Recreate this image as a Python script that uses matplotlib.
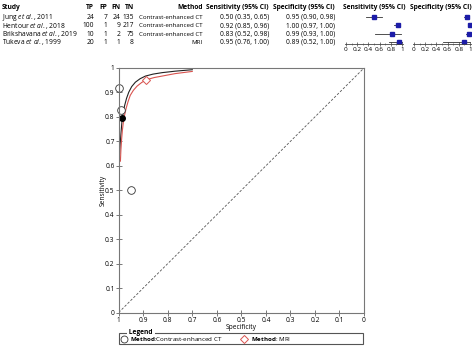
import matplotlib
matplotlib.use("Agg")
import matplotlib.pyplot as plt
from matplotlib.patches import Rectangle

plt.rcParams['font.family'] = ['Open Sans', 'DejaVu Sans']
plt.rcParams['mathtext.fontset'] = 'custom'
plt.rcParams['mathtext.rm'] = 'Open Sans'
plt.rcParams['mathtext.it'] = 'Open Sans:italic'
plt.rcParams['mathtext.bf'] = 'Open Sans:bold'

# study table
studies = ["Jung", "Hentour", "Brikshavana", "Tukeva"]
years = [2011, 2018, 2019, 1999]
tp = [24, 100, 10, 20]
fp = [7, 1, 1, 1]
fn = [24, 9, 2, 1]
tn = [135, 217, 75, 8]
methods = ["Contrast-enhanced CT", "Contrast-enhanced CT", "Contrast-enhanced CT", "MRI"]
sens = [0.50, 0.92, 0.83, 0.95]
sens_lo = [0.35, 0.85, 0.52, 0.76]
sens_hi = [0.65, 0.96, 0.98, 1.00]
spec = [0.95, 1.00, 0.99, 0.89]
spec_lo = [0.90, 0.97, 0.93, 0.52]
spec_hi = [0.98, 1.00, 1.00, 1.00]

# SROC curves
ct_curve_spec = [0.996, 0.994, 0.991, 0.987, 0.982, 0.976, 0.968, 0.959, 0.947, 0.932, 0.913, 0.891, 0.860, 0.823, 0.77, 0.70]
ct_curve_sens = [0.65, 0.69, 0.73, 0.778, 0.815, 0.846, 0.876, 0.901, 0.924, 0.942, 0.956, 0.967, 0.975, 0.981, 0.987, 0.993]
mri_curve_spec = [0.993, 0.991, 0.988, 0.985, 0.981, 0.976, 0.970, 0.962, 0.953, 0.940, 0.925, 0.906, 0.884, 0.855, 0.823, 0.77, 0.70]
mri_curve_sens = [0.619, 0.665, 0.71, 0.745, 0.778, 0.807, 0.834, 0.862, 0.888, 0.909, 0.926, 0.941, 0.953, 0.961, 0.967, 0.977, 0.986]
ct_summary_spec = 0.987
ct_summary_sens = 0.795

W, H = 474, 353
def fx(x):
    return x / W
def fy(y):
    return 1 - y / H

fig = plt.figure(figsize=(4.74, 3.53), dpi=100)
fs = 4.8   # table body
fh = 4.8   # table headers
fa = 4.8   # axis text

# ---- table ----
row_y = [17.3, 25.7, 34.0, 42.3]
head_y = 7.5
fig.text(fx(2), fy(head_y), "Study", fontsize=fh, weight='bold', va='center')
for lab, xr in [("TP", 94), ("FP", 107), ("FN", 120), ("TN", 134), ("Method", 203)]:
    fig.text(fx(xr), fy(head_y), lab, fontsize=fh, weight='bold', va='center', ha='right')
fig.text(fx(269), fy(head_y), "Sensitivity (95% CI)", fontsize=fh, weight='bold', va='center', ha='right')
fig.text(fx(335), fy(head_y), "Specificity (95% CI)", fontsize=fh, weight='bold', va='center', ha='right')
fig.text(fx(343), fy(head_y), "Sensitivity (95% CI)", fontsize=fh, weight='bold', va='center', ha='left')
fig.text(fx(410), fy(head_y), "Specificity (95% CI)", fontsize=fh, weight='bold', va='center', ha='left')

for i in range(len(studies)):
    y = fy(row_y[i])
    fig.text(fx(2), y, studies[i] + r" $\mathit{et\ al.}$, " + str(years[i]), fontsize=fs, va='center')
    fig.text(fx(94), y, str(tp[i]), fontsize=fs, va='center', ha='right')
    fig.text(fx(107), y, str(fp[i]), fontsize=fs, va='center', ha='right')
    fig.text(fx(120), y, str(fn[i]), fontsize=fs, va='center', ha='right')
    fig.text(fx(134), y, str(tn[i]), fontsize=fs, va='center', ha='right')
    fig.text(fx(203), y, methods[i], fontsize=4.4, va='center', ha='right')
    fig.text(fx(269), y, f"{sens[i]:.2f} ({sens_lo[i]:.2f}, {sens_hi[i]:.2f})", fontsize=fs, va='center', ha='right')
    fig.text(fx(335), y, f"{spec[i]:.2f} ({spec_lo[i]:.2f}, {spec_hi[i]:.2f})", fontsize=fs, va='center', ha='right')

# ---- forest plots ----
def forest(x0, x1, est, lo, hi):
    pad = (x1 - x0) * 0.02
    ax = fig.add_axes([fx(x0 - pad), fy(44.3), fx(x1 + pad) - fx(x0 - pad), fy(12) - fy(44.3)])
    rows = list(range(len(est)))
    for r in rows:
        ax.plot([lo[r], hi[r]], [r, r], color='#333333', lw=0.6)
    ax.plot(est, rows, 's', color='#1c1ca8', ms=3, mec='#1c1ca8')
    ax.set_xlim(-0.02, 1.02)
    ax.set_ylim(3.31, -0.64)
    for s in ['top', 'right', 'left']:
        ax.spines[s].set_visible(False)
    ax.spines['bottom'].set_color('#444444')
    ax.spines['bottom'].set_linewidth(0.6)
    ax.set_yticks([])
    ax.set_xticks([0, 0.2, 0.4, 0.6, 0.8, 1])
    ax.set_xticklabels(["0", "0.2", "0.4", "0.6", "0.8", "1"])
    ax.set_xticks([0.1, 0.3, 0.5, 0.7, 0.9], minor=True)
    ax.tick_params(axis='x', labelsize=4.6, length=3, width=0.5, direction='inout', pad=0.5, color='#444444')
    ax.tick_params(axis='x', which='minor', length=2, width=0.4, direction='inout', color='#444444')
    ax.patch.set_alpha(0)

forest(346, 402, sens, sens_lo, sens_hi)
forest(414, 470, spec, spec_lo, spec_hi)

# ---- SROC plot ----
ax = fig.add_axes([fx(118.7), fy(312.5), fx(364) - fx(118.7), fy(68) - fy(312.5)])
ax.plot([1, 0], [0, 1], ls=(0, (3, 2)), color='#555555', lw=0.6)
ax.plot(ct_curve_spec, ct_curve_sens, color='#222222', lw=0.8)
ax.plot(mri_curve_spec, mri_curve_sens, color='#d9534f', lw=0.8)
ct_idx = [i for i in range(len(methods)) if methods[i] != "MRI"]
mri_idx = [i for i in range(len(methods)) if methods[i] == "MRI"]
ax.plot([spec[i] for i in ct_idx], [sens[i] for i in ct_idx], 'o', mfc='white', mec='#333333',
        ms=5.5, mew=0.6, clip_on=False)
ax.plot([spec[i] for i in mri_idx], [sens[i] for i in mri_idx], 'D', mfc='white', mec='#d9534f',
        ms=4.5, mew=0.7, clip_on=False)
ax.plot([ct_summary_spec], [ct_summary_sens], 'o', color='black', ms=4, clip_on=False)

ax.set_xlim(1, 0)
ax.set_ylim(0, 1)
ax.set_xticks([1, 0.9, 0.8, 0.7, 0.6, 0.5, 0.4, 0.3, 0.2, 0.1, 0])
ax.set_xticklabels(["1", "0.9", "0.8", "0.7", "0.6", "0.5", "0.4", "0.3", "0.2", "0.1", "0"])
ax.set_yticks([0, 0.1, 0.2, 0.3, 0.4, 0.5, 0.6, 0.7, 0.8, 0.9, 1])
ax.set_yticklabels(["0", "0.1", "0.2", "0.3", "0.4", "0.5", "0.6", "0.7", "0.8", "0.9", "1"])
ax.tick_params(labelsize=fa, length=4, width=0.5, direction='inout', pad=1, color='#444444')
for s in ax.spines.values():
    s.set_color('#777777')
    s.set_linewidth(0.8)
ax.set_xlabel("Specificity", fontsize=fa, labelpad=0.5)
ax.set_ylabel("Sensitivity", fontsize=fa, labelpad=-1)

# ---- legend box ----
lax = fig.add_axes([fx(119), fy(344), fx(363) - fx(119), fy(332.5) - fy(344)])
lax.set_xlim(0, 1)
lax.set_ylim(0, 1)
lax.axis('off')
lax.add_patch(Rectangle((0, 0), 1, 1, fill=False, ec='#555555', lw=0.8, transform=lax.transAxes, clip_on=False))
lax.text(0.033, 1.0, " Legend ", fontsize=fa, weight='bold', va='center', ha='left',
         bbox=dict(fc='white', ec='none', pad=0.2))
lax.plot([0.022], [0.42], 'o', mfc='white', mec='#333333', ms=5, mew=0.6)
lax.text(0.045, 0.42, r"$\mathbf{Method}$:Contrast-enhanced CT", fontsize=4.5, va='center')
lax.plot([0.512], [0.42], 'D', mfc='white', mec='#d9534f', ms=4.5, mew=0.7)
lax.text(0.54, 0.42, r"$\mathbf{Method}$: MRI", fontsize=4.5, va='center')

fig.savefig("out.png", dpi=100)
